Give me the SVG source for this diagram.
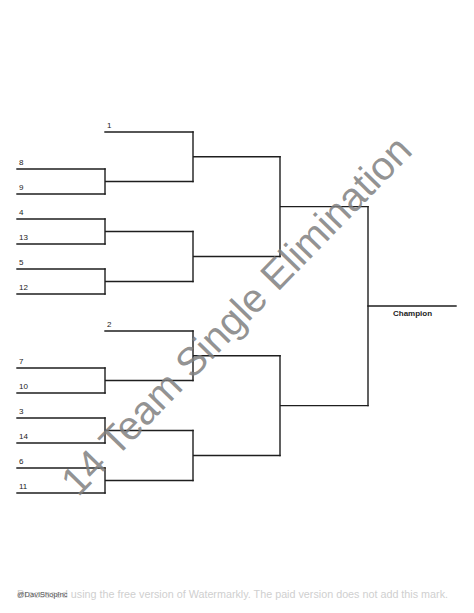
<svg xmlns="http://www.w3.org/2000/svg" width="474" height="613" viewBox="0 0 474 613">
<style>
.ln{fill:none;stroke:#1e1e1e;stroke-width:1.4;stroke-linecap:square}
.lb{font-family:"Liberation Sans",Arial,sans-serif;font-size:8px;fill:#222}
.ch{font-family:"Liberation Sans",Arial,sans-serif;font-size:8px;font-weight:bold;fill:#222}
.wm{font-family:"Liberation Sans",Arial,sans-serif;font-size:40px;fill:#808080;fill-opacity:0.85}
.ft{font-family:"Liberation Sans",Arial,sans-serif;font-size:10px;fill:#cfcfcf}
.hd{font-family:"Liberation Sans",Arial,sans-serif;font-size:7.5px;fill:#555}
</style>
<rect width="474" height="613" fill="#fff"/>
<g id="seed-1"><path class="ln" d="M105 132H193"/><text class="lb" x="107" y="128">1</text></g>
<g id="seed-8"><path class="ln" d="M17 169H105"/><text class="lb" x="19" y="165">8</text></g>
<g id="seed-9"><path class="ln" d="M17 194H105"/><text class="lb" x="19" y="190">9</text></g>
<g id="seed-4"><path class="ln" d="M17 219H105"/><text class="lb" x="19" y="215">4</text></g>
<g id="seed-13"><path class="ln" d="M17 244H105"/><text class="lb" x="19" y="240">13</text></g>
<g id="seed-5"><path class="ln" d="M17 269H105"/><text class="lb" x="19" y="265">5</text></g>
<g id="seed-12"><path class="ln" d="M17 294H105"/><text class="lb" x="19" y="290">12</text></g>
<g id="seed-2"><path class="ln" d="M105 331H193"/><text class="lb" x="107" y="327">2</text></g>
<g id="seed-7"><path class="ln" d="M17 368H105"/><text class="lb" x="19" y="364">7</text></g>
<g id="seed-10"><path class="ln" d="M17 393H105"/><text class="lb" x="19" y="389">10</text></g>
<g id="seed-3"><path class="ln" d="M17 418H105"/><text class="lb" x="19" y="414">3</text></g>
<g id="seed-14"><path class="ln" d="M17 443H105"/><text class="lb" x="19" y="439">14</text></g>
<g id="seed-6"><path class="ln" d="M17 468H105"/><text class="lb" x="19" y="464">6</text></g>
<g id="seed-11"><path class="ln" d="M17 493H105"/><text class="lb" x="19" y="489">11</text></g>
<g id="champion"><path class="ln" d="M368 306H456"/><text class="ch" x="393" y="316">Champion</text></g>
<g id="connectors">
<path class="ln" d="M105 169V194M105 181.5H193"/>
<path class="ln" d="M105 219V244M105 231.5H193"/>
<path class="ln" d="M105 269V294M105 281.5H193"/>
<path class="ln" d="M105 368V393M105 380.5H193"/>
<path class="ln" d="M105 418V443M105 430.5H193"/>
<path class="ln" d="M105 468V493M105 480.5H193"/>
<path class="ln" d="M193 132V181.5M193 156.7H280"/>
<path class="ln" d="M193 231.5V281.5M193 256.5H280"/>
<path class="ln" d="M193 331V380.5M193 355.7H280"/>
<path class="ln" d="M193 430.5V480.5M193 455.5H280"/>
<path class="ln" d="M280 156.7V256.5M280 206.6H368"/>
<path class="ln" d="M280 355.7V455.5M280 405.6H368"/>
<path class="ln" d="M368 206.6V405.6"/>
</g>
<text class="wm" x="246" y="325" text-anchor="middle" transform="rotate(-45.8 246 325)">14 Team Single Elimination</text>
<text class="ft" x="17" y="598" textLength="431" lengthAdjust="spacingAndGlyphs">Processed using the free version of Watermarkly. The paid version does not add this mark.</text>
<text class="hd" x="17" y="597">@DavIShopInc</text>
</svg>
